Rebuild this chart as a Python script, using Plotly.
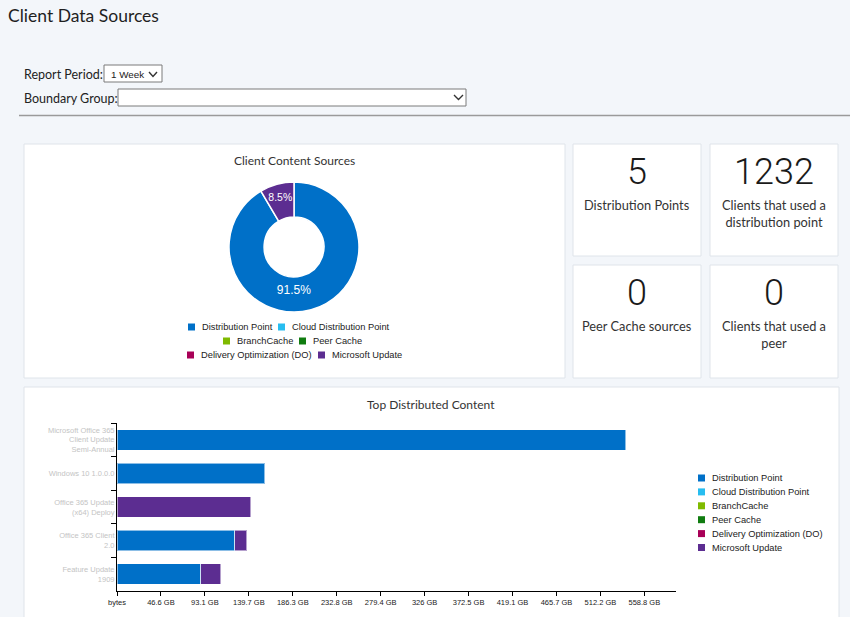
import plotly.graph_objects as go

W, H = 850, 617


def X(p):
    return p / W


def Y(p):
    return 1 - p / H


# ---------------- data ----------------
sources = ["Distribution Point", "Cloud Distribution Point", "BranchCache",
           "Peer Cache", "Delivery Optimization (DO)", "Microsoft Update"]
source_colors = ["#0070c8", "#27bdf0", "#7fba00", "#107c10", "#a80057", "#5c2d91"]
pie_share = [91.5, 0, 0, 0, 0, 8.5]

content_names = ["Microsoft Office 365<br>Client Update<br>Semi-Annual",
                 "Windows 10 1.0.0.0",
                 "Office 365 Update<br>(x64) Deploy",
                 "Office 365 Client<br>2.0",
                 "Feature Update<br>1909"]
dp_bytes = [579e9, 168e9, 0, 134e9, 95e9]
cdp_bytes = [0, 0, 0, 0, 0]
bc_bytes = [0, 0, 0, 0, 0]
pc_bytes = [0, 0, 0, 0, 0]
do_bytes = [0, 0, 0, 0, 0]
mu_bytes = [0, 0, 152e9, 13.5e9, 23e9]
bytes_by_source = [dp_bytes, cdp_bytes, bc_bytes, pc_bytes, do_bytes, mu_bytes]

x_tick_bytes = [0, 50e9, 100e9, 150e9, 200e9, 250e9, 300e9, 350e9, 400e9,
                450e9, 500e9, 550e9, 600e9]
x_tick_labels = ["bytes", "46.6 GB", "93.1 GB", "139.7 GB", "186.3 GB", "232.8 GB",
                 "279.4 GB", "326 GB", "372.5 GB", "419.1 GB", "465.7 GB",
                 "512.2 GB", "558.8 GB"]

tile_values = ["5", "1232", "0", "0"]
tile_captions = ["Distribution Points", "Clients that used a<br>distribution point",
                 "Peer Cache sources", "Clients that used a<br>peer"]
report_period = "1 Week"

# ---------------- styles ----------------
UI_FONT = "Lato"
CHART_FONT = "Liberation Sans"
TXT = "#222222"

fig = go.Figure()

# donut
pie_labels = [s for s, v in zip(sources, pie_share) if v > 0]
pie_values = [v for v in pie_share if v > 0]
pie_cols = [c for c, v in zip(source_colors, pie_share) if v > 0]
fig.add_trace(go.Pie(
    labels=pie_labels, values=pie_values, sort=False, direction="clockwise",
    rotation=0, hole=0.46,
    marker=dict(colors=pie_cols, line=dict(color="white", width=1.5)),
    texttemplate="%{percent:.1%}", textposition="inside",
    insidetextorientation="horizontal",
    textfont=dict(color="white", size=12, family=CHART_FONT),
    domain=dict(x=[X(229), X(359)], y=[Y(312), Y(182)]),
    showlegend=False, hoverinfo="label+percent"))

# stacked bars
for name, color, vals in zip(sources, source_colors, bytes_by_source):
    if not any(vals):
        continue
    fig.add_trace(go.Bar(
        y=content_names, x=[v if v else None for v in vals], orientation="h",
        name=name, showlegend=False,
        marker=dict(color=color, line=dict(color="rgba(255,255,255,0.55)", width=1)),
        xaxis="x", yaxis="y"))

shapes = []
annotations = []


def rect(x0, y0, x1, y1, fill="white", line="#dfe4ea", lw=1):
    shapes.append(dict(type="rect", xref="paper", yref="paper",
                       x0=X(x0), x1=X(x1), y0=Y(y1), y1=Y(y0),
                       fillcolor=fill, line=dict(color=line, width=lw), layer="below"))


def text(x, y, s, size, color=TXT, family=UI_FONT, xanchor="center",
         yanchor="middle", weight=None, align="center"):
    f = dict(size=size, color=color, family=family)
    if weight:
        f["weight"] = weight
    annotations.append(dict(xref="paper", yref="paper", x=X(x), y=Y(y), text=s,
                            showarrow=False, xanchor=xanchor, yanchor=yanchor,
                            font=f, align=align))


# header
text(6, 16, "Client Data Sources", 17.5, color="#1f1f1f", xanchor="left")
text(22, 74, "Report Period:", 12.5, xanchor="left")
rect(104, 65, 162, 82, fill="white", line="#7a7a7a")
text(109, 74, report_period, 9.8, family=CHART_FONT, xanchor="left")
text(22, 98, "Boundary Group:", 12.5, xanchor="left")
rect(118, 89, 466, 106, fill="white", line="#7a7a7a")
for (a, b, c, yy, dy) in [(149, 153, 157, 72, 4.5), (454, 458.5, 463, 95, 4.5)]:
    shapes.append(dict(type="path", xref="paper", yref="paper",
                       path=f"M{X(a)},{Y(yy)} L{X(b)},{Y(yy + dy)} L{X(c)},{Y(yy)}",
                       line=dict(color="#333333", width=1.4)))
shapes.append(dict(type="line", xref="paper", yref="paper", x0=X(19), x1=X(850),
                   y0=Y(115.5), y1=Y(115.5), line=dict(color="#9a9a9a", width=1.5)))

# panels
rect(24, 144, 565, 378)
tiles = [(573, 144, 701, 256), (710, 144, 838, 256),
         (573, 265, 701, 378), (710, 265, 838, 378)]
for (x0, y0, x1, y1), val, cap in zip(tiles, tile_values, tile_captions):
    rect(x0, y0, x1, y1)
    cx = (x0 + x1) / 2
    text(cx, y0 + 28, val, 36, color="#1a1a1a", family="Roboto", weight=300)
    text(cx, y0 + 51, cap, 12.8, color="#333333", yanchor="top")
rect(24, 387, 839, 625)

text(294, 160, "Client Content Sources", 12, color="#333333")
text(431, 404, "Top Distributed Content", 12, color="#333333")

# legends (swatches)
pie_legend_pos = [(188, 327), (278, 327), (223, 341), (299, 341), (187, 355), (318, 355)]
bar_legend_pos = [(698, 478 + 13.9 * i) for i in range(len(sources))]
for positions in (pie_legend_pos, bar_legend_pos):
    for (sx, cy), name, color in zip(positions, sources, source_colors):
        shapes.append(dict(type="rect", xref="paper", yref="paper",
                           x0=X(sx), x1=X(sx + 7), y0=Y(cy + 3.5), y1=Y(cy - 3.5),
                           fillcolor=color, line=dict(width=0)))
        text(sx + 12, cy, name, 9.3, color=TXT, family=CHART_FONT, xanchor="left")

fig.update_layout(
    width=W, height=H, autosize=False,
    margin=dict(l=0, r=0, t=0, b=0, autoexpand=False),
    paper_bgcolor="#f3f6fa", plot_bgcolor="rgba(0,0,0,0)",
    barmode="stack", bargap=0.39,
    xaxis=dict(domain=[X(117), X(676)], range=[0, 636e9], tickvals=x_tick_bytes,
               ticktext=x_tick_labels, ticks="outside", ticklen=4, tickcolor="#000",
               showline=True, linecolor="#000", linewidth=1, showgrid=False,
               zeroline=False, anchor="y", automargin=False,
               tickfont=dict(size=7.5, family=CHART_FONT, color="#222")),
    yaxis=dict(domain=[Y(591), Y(423)], type="category", autorange="reversed",
               showline=True, linecolor="#000", linewidth=1, ticks="outside",
               ticklen=5, tickcolor="#000", tickson="boundaries", showgrid=False,
               zeroline=False, anchor="x", automargin=False,
               tickfont=dict(size=7.5, family=CHART_FONT, color="#c4c4c4")),
    shapes=shapes, annotations=annotations,
    font=dict(family=UI_FONT, color=TXT),
)

fig.write_html("out.html")
